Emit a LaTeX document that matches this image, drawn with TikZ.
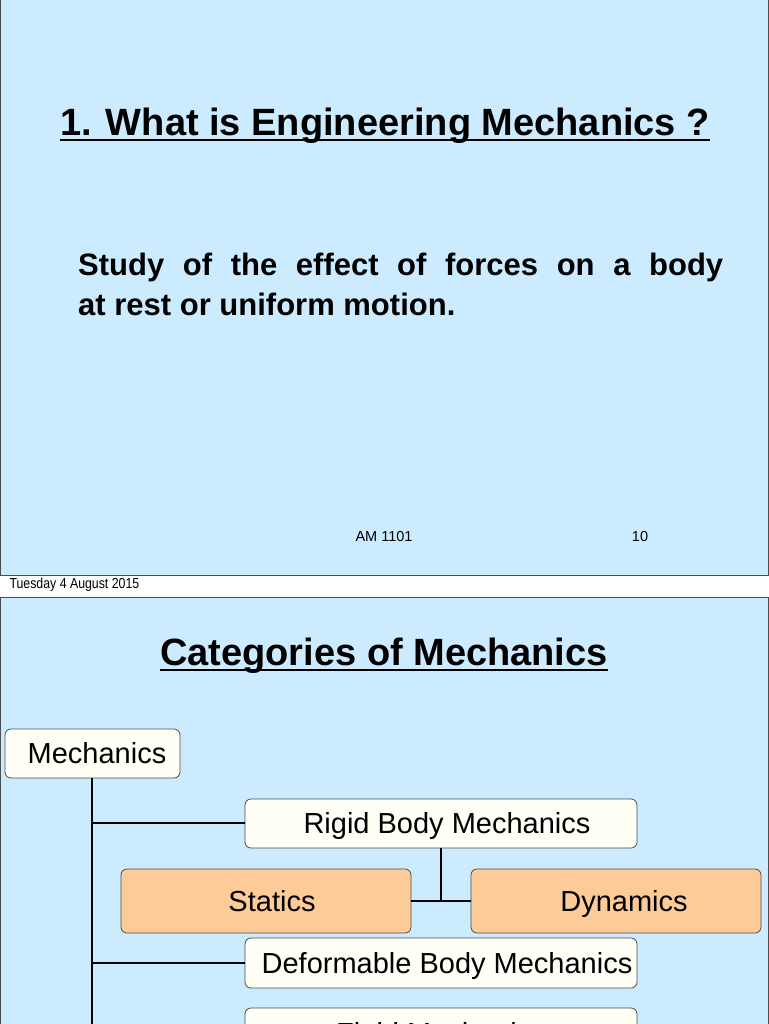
\documentclass[tikz,border=0pt]{standalone}
\usepackage{fontspec}
\setmainfont{Liberation Sans}
\newcommand{\ulx}[1]{\setbox0\hbox{#1}\rlap{\rule[-5pt]{\wd0}{2.2pt}}\box0}
\begin{document}
\begin{tikzpicture}[x=1pt,y=-1pt,
  slide/.style={fill=bgblue,draw=black!70,line width=1pt},
  wbox/.style={draw=black!70,fill=boxwhite,rounded corners=6pt,line width=0.8pt},
  obox/.style={draw=black!70,fill=boxorange,rounded corners=6pt,line width=0.8pt},
  lbl/.style={font=\fontsize{29}{32}\selectfont,anchor=center,text height=25pt,text depth=5pt},
  conn/.style={line width=1.6pt}]
\definecolor{bgblue}{HTML}{CCEBFE}
\definecolor{boxwhite}{HTML}{FFFFF6}
\definecolor{boxorange}{HTML}{FDCB98}
\useasboundingbox (0,0) rectangle (768,1024);
\fill[white] (0,0) rectangle (768,1024);
\draw[slide] (0,-2) rectangle (768,575);
\draw[slide] (0,597) rectangle (768,1030);
\node[anchor=west,font=\fontsize{14.5}{16}\selectfont\addfontfeatures{FakeStretch=0.85}] (date) at (6,585) {Tuesday 4 August 2015};
\node[font=\bfseries\fontsize{38}{40}\selectfont] (t1) at (385,126) {\ulx{1. What is Engineering Mechanics ?}};
\node[anchor=north west,align=justify,text width=645pt,inner sep=0pt,font=\bfseries\fontsize{31}{40}\selectfont] (body) at (78,253) {Study of the effect of forces on a body\linebreak at rest or uniform motion.};
\node[font=\fontsize{14.5}{16}\selectfont] (am) at (384,537) {AM 1101};
\node[font=\fontsize{14.5}{16}\selectfont] (pg) at (640,537) {10};
\node[font=\bfseries\fontsize{38}{40}\selectfont] (t2) at (384,656) {\ulx{Categories of Mechanics}};
\draw[wbox] (5,729) rectangle (180,778);
\node[lbl] (mech) at (97,753) {Mechanics};
\draw[wbox] (245,799) rectangle (637,848);
\node[lbl] (rigid) at (447,823) {Rigid Body Mechanics};
\draw[obox] (121,869) rectangle (411,933);
\node[lbl] (stat) at (272,901) {Statics};
\draw[obox] (471,869) rectangle (761,933);
\node[lbl] (dyn) at (624,901) {Dynamics};
\draw[wbox] (245,938) rectangle (637,988);
\node[lbl] (def) at (447,963) {Deformable Body Mechanics};
\draw[wbox] (245,1008) rectangle (637,1058);
\node[lbl] (fluid) at (441,1033) {Fluid Mechanics};
\coordinate (top) at (92,778);
\coordinate (bot) at (92,1030);
\draw[conn] (top) -- (bot);
\draw[conn] (92,823) -- (245,823);
\draw[conn] (92,963) -- (245,963);
\draw[conn] (92,1033) -- (245,1033);
\draw[line width=1.2pt] (441,848) -- (441,901);
\draw[line width=1.2pt] (411,901) -- (471,901);
\end{tikzpicture}
\end{document}
